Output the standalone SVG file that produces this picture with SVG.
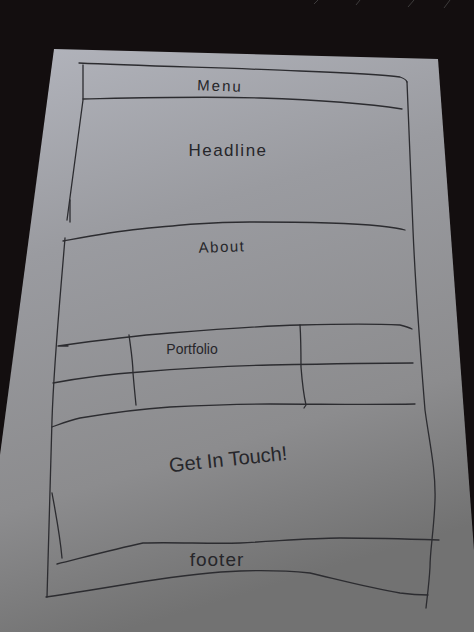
<svg xmlns="http://www.w3.org/2000/svg" width="474" height="632" viewBox="0 0 474 632">
<defs>
<linearGradient id="paperGrad" x1="0" y1="0" x2="0.25" y2="1">
<stop offset="0" stop-color="#b2b4bc"/>
<stop offset="0.35" stop-color="#9a9ba0"/>
<stop offset="0.75" stop-color="#8c8c8e"/>
<stop offset="1" stop-color="#727272"/>
</linearGradient>
<style>
.ink{fill:none;stroke:#2c2c30;stroke-width:1.3;stroke-linecap:round;stroke-linejoin:round}
.hand{font-family:"Liberation Sans","DejaVu Sans",sans-serif;fill:#26262a}
</style>
</defs>
<rect width="474" height="632" fill="#130e0f"/>
<g id="reflections" stroke="#5a5a5a" stroke-width="1" opacity="0.6">
<line x1="318" y1="0" x2="314" y2="4"/>
<line x1="360" y1="0" x2="356" y2="5"/>
<line x1="414" y1="0" x2="408" y2="7"/>
<line x1="450" y1="0" x2="444" y2="8"/>
</g>
<polygon id="paper" points="54,49 438,59 480,632 0,632 0,455" fill="url(#paperGrad)"/>
<g id="wireframe">
<path id="menu-top" class="ink" d="M79,63 C140,66 233,68 300,71 C350,73 385,75 400,77 Q406,79 407,82"/>
<path id="menu-bottom" class="ink" d="M83,99 C130,98 200,96 260,98 C320,100 370,104 402,109"/>
<path id="left-1" class="ink" d="M83,65 L83,100 C78,140 72,180 67,220"/>
<path id="left-1b" class="ink" d="M70,200 L70,222"/>
<path id="left-2" class="ink" d="M65,238 C60,300 54,360 52,420 C50,480 49,540 47,597"/>
<path id="left-3" class="ink" d="M52,493 C56,515 60,535 62,558"/>
<path id="right" class="ink" d="M407,82 C409,130 411,180 413,230 C416,300 421,360 425,410 C429,440 436,470 435,500 C434,530 430,550 430,567 C429,585 427,598 426,608"/>
<path id="headline-bottom" class="ink" d="M63,241 C90,236 110,232 140,229 C180,225 210,222 250,222 C300,222 350,223 380,226 Q398,228 405,230"/>
<path id="about-bottom" class="ink" d="M58,346 L68,346 M58,346 C100,340 130,336 170,333 C220,329 260,326 300,325 C340,324 380,324 400,325 Q408,327 412,329"/>
<path id="portfolio-mid" class="ink" d="M53,383 C80,378 110,374 140,372 C190,368 230,366 270,365 C320,364 370,363 413,363"/>
<path id="portfolio-bottom" class="ink" d="M52,427 C60,424 70,420 80,418 C110,413 140,409 170,407 C210,405 240,404 270,404 C320,404 370,405 415,404"/>
<path id="portfolio-div-left" class="ink" d="M129,335 C131,350 133,362 133,373 C134,385 135,395 136,405"/>
<path id="portfolio-div-right" class="ink" d="M300,325 C301,340 301,355 301,367 C302,380 303,392 306,405 L304,408"/>
<path id="footer-top" class="ink" d="M57,564 C85,557 115,549 143,543 C175,542 210,544 240,543 C280,541 310,538 340,538 C380,538 410,539 439,540"/>
<path id="footer-bottom" class="ink" d="M46,597 C80,592 110,587 140,582 C180,576 210,572 240,571 C270,570 290,571 310,573 C340,580 370,588 400,593 Q415,595 428,595"/>
</g>
<g id="labels">
<text id="t-menu" class="hand" x="220" y="91" text-anchor="middle" font-size="15" letter-spacing="2" transform="rotate(2 220 86)">Menu</text>
<text id="t-headline" class="hand" x="228" y="156" text-anchor="middle" font-size="17" letter-spacing="1.5">Headline</text>
<text id="t-about" class="hand" x="222" y="252" text-anchor="middle" font-size="15" letter-spacing="1.5" transform="rotate(-2 222 247)">About</text>
<text id="t-portfolio" class="hand" x="192" y="354" text-anchor="middle" font-size="14">Portfolio</text>
<text id="t-contact" class="hand" x="228" y="466" text-anchor="middle" font-size="20" transform="rotate(-6 228 458)">Get In Touch!</text>
<text id="t-footer" class="hand" x="217" y="566" text-anchor="middle" font-size="19" letter-spacing="1">footer</text>
</g>
</svg>
